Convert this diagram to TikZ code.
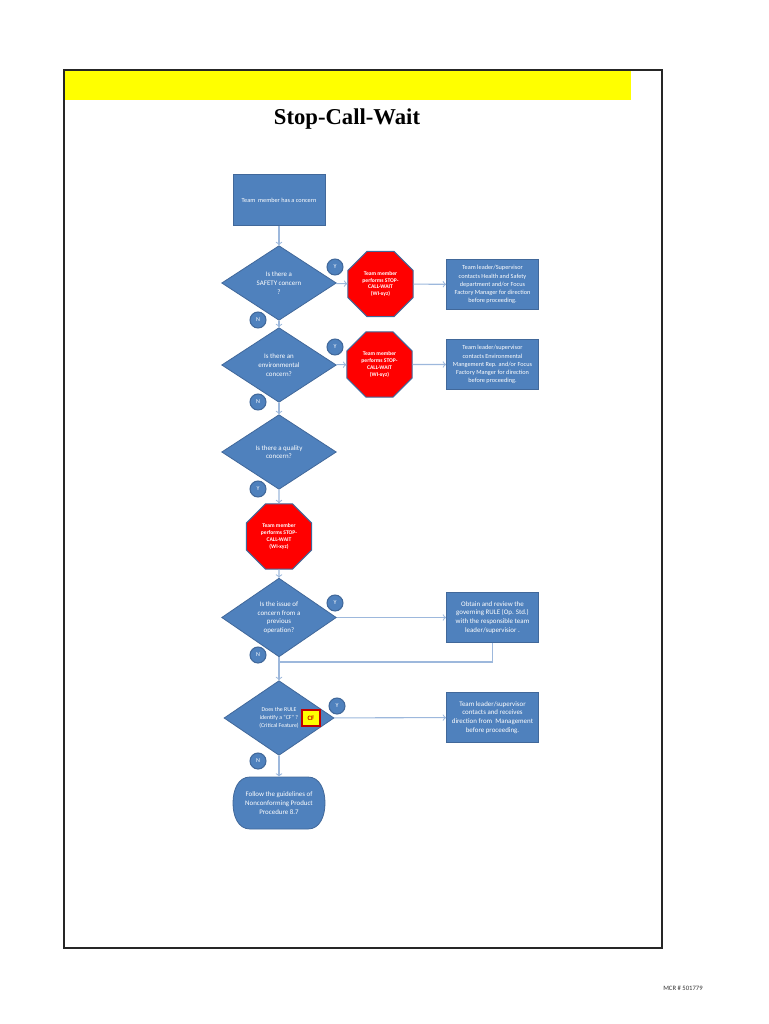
\documentclass[tikz,border=0pt]{standalone}
\usepackage{fontspec}
\setmainfont{Carlito}
\newfontfamily\titlefont{Liberation Serif}
\usetikzlibrary{shapes.geometric}
\definecolor{flowblue}{HTML}{4F81BD}
\definecolor{flowedge}{HTML}{41689A}
\definecolor{flowline}{HTML}{9DB8DC}
\definecolor{cfred}{HTML}{C00000}
\definecolor{bandyellow}{RGB}{255,255,0}
\definecolor{stopred}{RGB}{255,0,0}
\tikzset{
  boxtext/.style={text=white, align=center, font=\fontsize{4.7}{6.1}\selectfont},
  flowbox/.style={draw=flowedge, line width=0.6pt, fill=flowblue, rectangle, minimum width=69pt, minimum height=38pt, inner sep=0pt, boxtext},
  question/.style={draw=flowedge, line width=0.6pt, fill=flowblue, diamond, aspect=1.57, minimum width=86pt, minimum height=56pt, inner sep=0pt, boxtext, font=\fontsize{5.2}{6.5}\selectfont},
  stopsign/.style={draw=flowedge, line width=0.8pt, fill=stopred, regular polygon, regular polygon sides=8, minimum size=53pt, inner sep=0pt, text=white, align=center, font=\fontsize{4.2}{5.2}\selectfont\bfseries},
  answer/.style={draw=flowedge, line width=0.8pt, fill=flowblue, circle, minimum size=12pt, inner sep=0pt, text=white, font=\fontsize{4.5}{5}\selectfont},
  flow/.style={->, flowline, line width=0.8pt, >=to}
}
\begin{document}
\begin{tikzpicture}[x=0.75pt, y=-0.75pt]
\useasboundingbox (0,0) rectangle (768,1024);

% Page frame and title
\fill[bandyellow] (65,71) rectangle (631,100);
\draw[line width=1.2pt, black!85] (64,70) rectangle (662,948);
\node[font=\titlefont\fontsize{17}{20}\selectfont\bfseries] (title) at (347,119) {Stop-Call-Wait};

% Start
\node[flowbox] (concern) at (279,200) {Team\ \ member has a concern};

% Questions
\node[question] (safety) at (279,283) {Is there a\\SAFETY concern\\?};
\node[question] (environment) at (279,365) {Is there an\\environmental\\concern?};
\node[question] (quality) at (279,452) {Is there a quality\\concern?};
\node[question, minimum height=59pt] (previous) at (279,617.5) {Is the issue of\\concern from a\\previous\\operation?};
\node[question, minimum width=82.5pt, font=\fontsize{4.4}{5.9}\selectfont] (rule) at (279,718) {Does the RULE\\identify a ``CF'' ?\\(Critical Feature)};

% Stop signs
\node[stopsign] (stop1) at (380.5,284) {Team member\\performs STOP-\\CALL-WAIT\\(WI-xyz)};
\node[stopsign] (stop2) at (379.5,364.5) {Team member\\performs STOP-\\CALL-WAIT\\(WI-xyz)};
\node[stopsign] (stop3) at (279,536.5) {Team member\\performs STOP-\\CALL-WAIT\\(WI-xyz)};

% Actions
\node[flowbox] (action1) at (492.5,284.5) {Team leader/Supervisor\\contacts Health and Safety\\department and/or Focus\\Factory Manager for direction\\before proceeding.};
\node[flowbox] (action2) at (492.5,364.5) {Team leader/supervisor\\contacts Environmental\\Mangement Rep. and/or Focus\\Factory Manger for direction\\before proceeding.};
\node[flowbox, font=\fontsize{5.2}{6.6}\selectfont] (action3) at (492.5,617.5) {Obtain and review the\\governing RULE (Op. Std.)\\with the responsible team\\leader/supervisior .};
\node[flowbox, font=\fontsize{5.2}{6.6}\selectfont] (action4) at (492.5,717.5) {Team leader/supervisor\\contacts and receives\\direction from\ \ Management\\before proceeding.};

% End
\draw[draw=flowedge, line width=0.6pt, fill=flowblue] (250,777) -- (308,777) .. controls (320,777) and (325,790) .. (325,803) .. controls (325,816) and (320,829) .. (308,829) -- (250,829) .. controls (238,829) and (233,816) .. (233,803) .. controls (233,790) and (238,777) .. (250,777) -- cycle;
\node[rectangle, minimum width=69pt, minimum height=39pt, inner sep=0pt, boxtext, font=\fontsize{5.2}{6.6}\selectfont] (guidelines) at (279,803) {Follow the guidelines of\\Nonconforming Product\\Procedure 8.7};

% CF flag
\node[draw=cfred, line width=0.9pt, fill=bandyellow, rectangle, minimum width=13.5pt, minimum height=12pt, inner sep=0pt, text=cfred, font=\fontsize{5}{6}\selectfont\bfseries] (cf) at (311,718) {CF};

% Arrows
\coordinate (merge) at (279,662);
\draw[flow] (concern) -- (safety);
\draw[flow] (safety) -- (environment);
\draw[flow] (environment) -- (quality);
\draw[flow] (quality) -- (stop3);
\draw[flow] (stop3) -- (previous);
\draw[flow] (previous) -- (rule);
\draw[flow] (rule) -- (guidelines);
\draw[flow] (safety) -- (stop1);
\draw[flow] (stop1) -- (action1);
\draw[flow] (environment) -- (stop2);
\draw[flow] (stop2) -- (action2);
\draw[flow] (previous) -- (action3);
\draw[flow] (rule) -- (action4);
\draw[flowline, line width=0.8pt] (action3.south) |- (merge);

% Answers
\node[answer] (y1) at (335,267) {Y};
\node[answer] (n1) at (258,320) {N};
\node[answer] (y2) at (335,347) {Y};
\node[answer] (n2) at (258,402) {N};
\node[answer] (y3) at (258,489) {Y};
\node[answer] (y4) at (335,603) {Y};
\node[answer] (n4) at (258,655) {N};
\node[answer] (y5) at (337,706) {Y};
\node[answer] (n5) at (258,761) {N};

% Footer
\node[font=\fontsize{5}{6}\selectfont, text=black!80] (footer) at (683,988) {MCR \# 501779};

\end{tikzpicture}
\end{document}
